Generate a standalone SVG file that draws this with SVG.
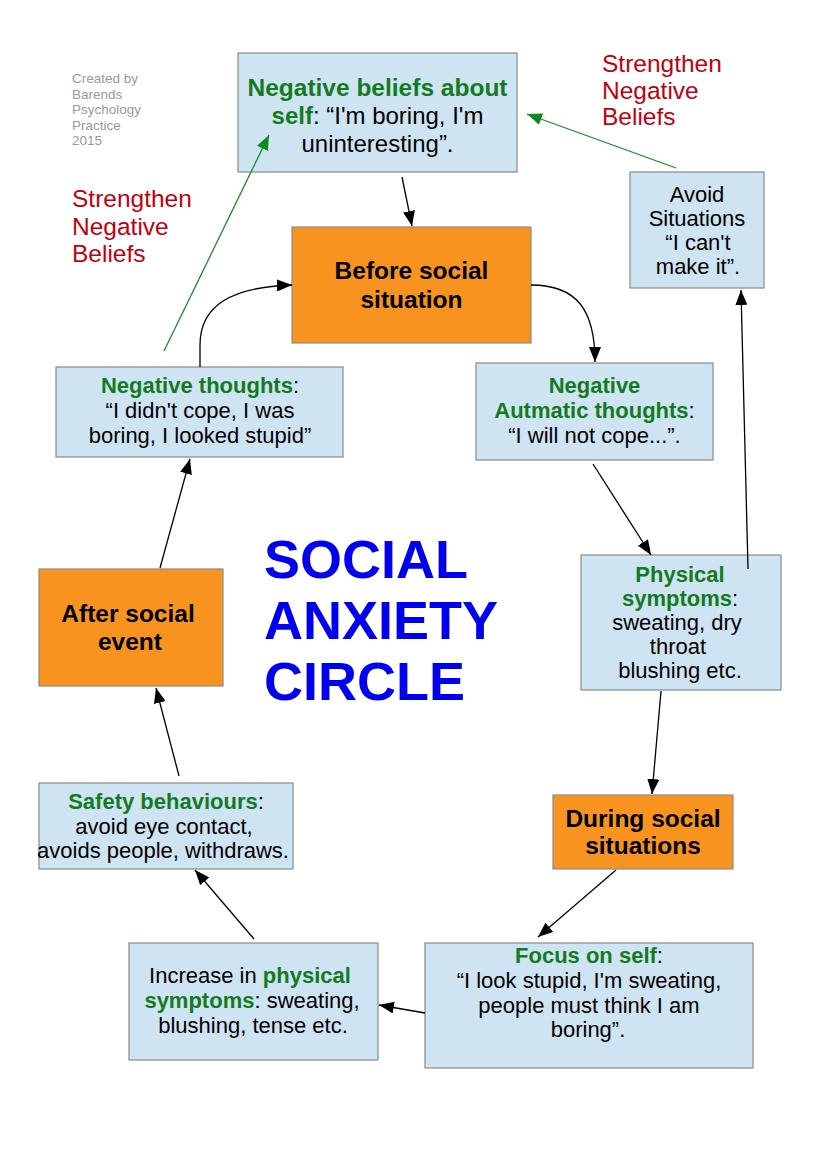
<svg xmlns="http://www.w3.org/2000/svg" width="819" height="1158" viewBox="0 0 819 1158">
<style>
  text { font-family: "Liberation Sans", Arial, sans-serif; }
  .box { fill: #cfe4f2; stroke: #8a8a8a; stroke-width: 1.2; }
  .obox { fill: #f7931e; stroke: #8a8a8a; stroke-width: 1.2; }
  .body { font-size: 22px; fill: #000; text-anchor: middle; }
  .head { font-size: 24.5px; font-weight: bold; fill: #000; text-anchor: middle; }
  .g { font-weight: bold; fill: #137a1f; }
  .red { font-size: 24.5px; fill: #c00010; }
  .credit { font-size: 13.5px; fill: #9a9a9a; }
  .title { font-size: 54px; font-weight: bold; fill: #0000ee; }
  .conn { fill: none; stroke: #000; stroke-width: 1.3; }
  .gconn { fill: none; stroke: #1f8a2a; stroke-width: 1.3; }
</style>
<defs>
  <marker id="ah" markerUnits="userSpaceOnUse" markerWidth="16" markerHeight="12" refX="15" refY="6" orient="auto">
    <path d="M0,0 L15,6 L0,12 z" fill="#000"/>
  </marker>
  <marker id="gah" markerUnits="userSpaceOnUse" markerWidth="16" markerHeight="12" refX="15" refY="6" orient="auto">
    <path d="M0,0 L15,6 L0,12 z" fill="#108a1e"/>
  </marker>
</defs>
<rect width="819" height="1158" fill="#fff"/>

<g id="credit">
  <text class="credit" x="72" y="83">Created by</text>
  <text class="credit" x="72" y="98.5">Barends</text>
  <text class="credit" x="72" y="114">Psychology</text>
  <text class="credit" x="72" y="129.5">Practice</text>
  <text class="credit" x="72" y="145">2015</text>
</g>

<g id="label-strengthen-right">
  <text class="red" x="602" y="72">Strengthen</text>
  <text class="red" x="602" y="98.5">Negative</text>
  <text class="red" x="602" y="125">Beliefs</text>
</g>
<g id="label-strengthen-left">
  <text class="red" x="72" y="207">Strengthen</text>
  <text class="red" x="72" y="234.5">Negative</text>
  <text class="red" x="72" y="262">Beliefs</text>
</g>

<g id="title">
  <text class="title" x="264" y="578">SOCIAL</text>
  <text class="title" x="264" y="639">ANXIETY</text>
  <text class="title" x="264" y="700">CIRCLE</text>
</g>

<g id="node-beliefs">
  <rect class="box" x="238" y="53" width="279" height="119"/>
  <text class="body" x="377.5" y="96" style="font-size:24.5px"><tspan class="g">Negative beliefs about</tspan></text>
  <text class="body" x="377.5" y="124" style="font-size:24px"><tspan class="g">self</tspan>: “I'm boring, I'm</text>
  <text class="body" x="377.5" y="152" style="font-size:24px">uninteresting”.</text>
</g>

<g id="node-avoid">
  <rect class="box" x="630" y="172" width="134" height="116"/>
  <text class="body" x="697" y="202">Avoid</text>
  <text class="body" x="697" y="226">Situations</text>
  <text class="body" x="698" y="250">“I can't</text>
  <text class="body" x="698" y="274">make it”.</text>
</g>

<g id="node-before">
  <rect class="obox" x="292" y="227" width="239" height="116"/>
  <text class="head" x="411.5" y="279">Before social</text>
  <text class="head" x="411.5" y="308">situation</text>
</g>

<g id="node-negthoughts">
  <rect class="box" x="56" y="367" width="287" height="90"/>
  <text class="body" x="200" y="393"><tspan class="g">Negative thoughts</tspan>:</text>
  <text class="body" x="200" y="418">“I didn't cope, I was</text>
  <text class="body" x="200" y="443">boring, I looked stupid”</text>
</g>

<g id="node-autothoughts">
  <rect class="box" x="476" y="363" width="237" height="97"/>
  <text class="body" x="594.5" y="393"><tspan class="g">Negative</tspan></text>
  <text class="body" x="594.5" y="418"><tspan class="g">Autmatic thoughts</tspan>:</text>
  <text class="body" x="594.5" y="443">“I will not cope...”.</text>
</g>

<g id="node-physical">
  <rect class="box" x="581" y="555" width="200" height="135"/>
  <text class="body" x="680" y="582"><tspan class="g">Physical</tspan></text>
  <text class="body" x="680" y="606"><tspan class="g">symptoms</tspan>:</text>
  <text class="body" x="677" y="630">sweating, dry</text>
  <text class="body" x="678" y="654">throat</text>
  <text class="body" x="680" y="678">blushing etc.</text>
</g>

<g id="node-after">
  <rect class="obox" x="39" y="569" width="184" height="117"/>
  <text class="head" x="128" y="622">After social</text>
  <text class="head" x="130" y="650">event</text>
</g>

<g id="node-during">
  <rect class="obox" x="553" y="795" width="180" height="74"/>
  <text class="head" x="643" y="827">During social</text>
  <text class="head" x="643" y="854">situations</text>
</g>

<g id="node-safety">
  <rect class="box" x="39" y="783" width="254" height="86"/>
  <text class="body" x="166" y="809"><tspan class="g">Safety behaviours</tspan>:</text>
  <text class="body" x="164" y="834">avoid eye contact,</text>
  <text class="body" x="163" y="858">avoids people, withdraws.</text>
</g>

<g id="node-increase">
  <rect class="box" x="129" y="943" width="249" height="117"/>
  <text class="body" x="250" y="983">Increase in <tspan class="g">physical</tspan></text>
  <text class="body" x="252" y="1008"><tspan class="g">symptoms</tspan>: sweating,</text>
  <text class="body" x="253" y="1033">blushing, tense etc.</text>
</g>

<g id="node-focus">
  <rect class="box" x="425" y="943" width="328" height="125"/>
  <text class="body" x="589" y="963"><tspan class="g">Focus on self</tspan>:</text>
  <text class="body" x="589" y="988">“I look stupid, I'm sweating,</text>
  <text class="body" x="589" y="1013">people must think I am</text>
  <text class="body" x="588" y="1037">boring”.</text>
</g>

<g id="connectors">
  <line class="conn" x1="402" y1="177" x2="412" y2="226" marker-end="url(#ah)"/>
  <path class="conn" d="M200,367 L200,345 C200,305 232,287 292,285" marker-end="url(#ah)"/>
  <path class="conn" d="M531,285 C577,285 595,310 595,362" marker-end="url(#ah)"/>
  <line class="conn" x1="593" y1="464" x2="651" y2="555" marker-end="url(#ah)"/>
  <line class="conn" x1="748" y1="569" x2="741" y2="290" marker-end="url(#ah)"/>
  <line class="gconn" x1="676" y1="168" x2="527" y2="114" marker-end="url(#gah)"/>
  <line class="gconn" x1="164" y1="351" x2="269" y2="135" marker-end="url(#gah)"/>
  <line class="conn" x1="661" y1="691" x2="652" y2="794" marker-end="url(#ah)"/>
  <line class="conn" x1="616" y1="870" x2="538" y2="937" marker-end="url(#ah)"/>
  <line class="conn" x1="425" y1="1013" x2="379" y2="1005" marker-end="url(#ah)"/>
  <line class="conn" x1="254" y1="939" x2="195" y2="870" marker-end="url(#ah)"/>
  <line class="conn" x1="179" y1="776" x2="156" y2="688" marker-end="url(#ah)"/>
  <line class="conn" x1="160" y1="568" x2="190" y2="459" marker-end="url(#ah)"/>
</g>
</svg>
